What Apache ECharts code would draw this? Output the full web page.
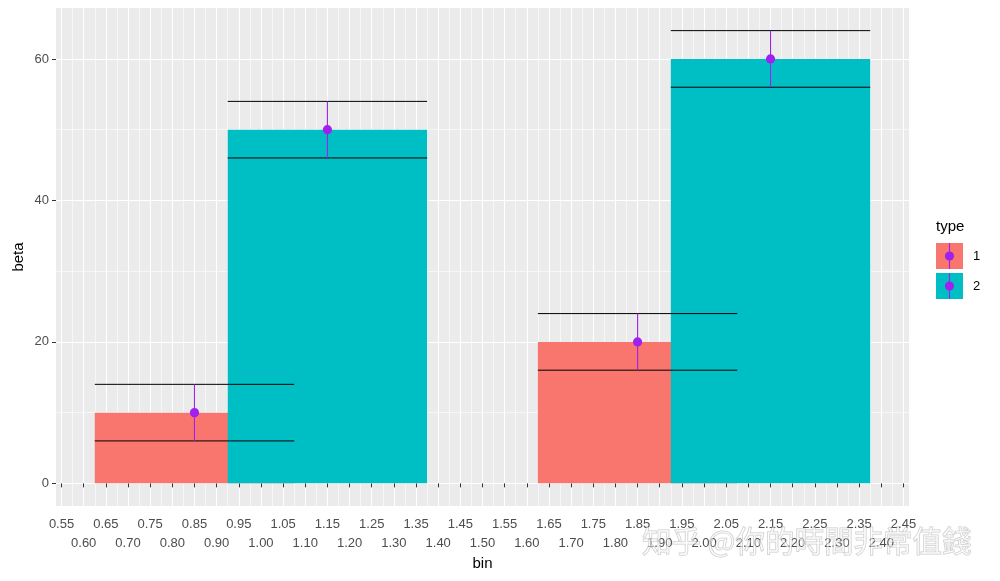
<!DOCTYPE html>
<html><head><meta charset="utf-8">
<script src="https://cdn.jsdelivr.net/npm/echarts@6/dist/echarts.min.js"></script>
<style>html,body{margin:0;padding:0;background:#fff}#c{width:1000px;height:581px}</style>
</head><body><div id="c"></div>
<script>
// ---- data ----
const bins  = [0.85, 1.15, 1.85, 2.15];
const types = ['1', '2', '1', '2'];
const beta  = [10, 50, 20, 60];
const lower = [6, 46, 16, 56];
const upper = [14, 54, 24, 64];
const typeLevels = ['1', '2'];
const xTickLabels = ['0.55','0.60','0.65','0.70','0.75','0.80','0.85','0.90','0.95','1.00',
  '1.05','1.10','1.15','1.20','1.25','1.30','1.35','1.40','1.45','1.50','1.55','1.60',
  '1.65','1.70','1.75','1.80','1.85','1.90','1.95','2.00','2.05','2.10','2.15','2.20',
  '2.25','2.30','2.35','2.40','2.45'];
const yTickLabels = ['0', '20', '40', '60'];

// ---- derived ----
const xTicks = xTickLabels.map(Number);
const xRow1 = xTicks.filter((t, i) => i % 2 === 0);
const xRow2 = xTicks.filter((t, i) => i % 2 === 1);
const xMinor = xTicks.slice(1).map((t, i) => (t + xTicks[i]) / 2);
const yTicks = yTickLabels.map(Number);
const yMinor = yTicks.slice(1).map((t, i) => (t + yTicks[i]) / 2);
const fillColors = {'1': '#F8766D', '2': '#00BFC4'};
const pointColor = '#A020F0';
const BAR_W = 0.45, ERR_W = 0.45;

const rows = bins.map((b, i) => [b, beta[i], lower[i], upper[i], typeLevels.indexOf(types[i])]);

const chart = echarts.init(document.getElementById('c'), null, {renderer: 'canvas'});
const font = 'Liberation Sans, Arial, sans-serif';
const xLabelFmt = v => {
  const i = xTicks.findIndex(t => Math.abs(t - v) < 1e-6);
  return i < 0 ? '' : xTickLabels[i];
};
const labelBase = {fontSize: 13, lineHeight: 19, color: '#4D4D4D', fontFamily: font,
  showMinLabel: true, showMaxLabel: true, hideOverlap: false, formatter: xLabelFmt};

const option = {
  animation: false,
  backgroundColor: '#FFFFFF',
  grid: {left: 56, right: 91, top: 8, bottom: 75, show: true, backgroundColor: '#EBEBEB', borderWidth: 0},
  xAxis: [{
    type: 'value', min: 0.5375, max: 2.4625, position: 'bottom',
    name: 'bin', nameLocation: 'middle', nameGap: 50, nameMoveOverlap: false,
    nameTextStyle: {fontSize: 15, color: '#000', fontFamily: font},
    axisLine: {show: false},
    axisTick: {show: true, customValues: xTicks, length: 4, lineStyle: {color: '#333333', width: 1}},
    axisLabel: Object.assign({customValues: xRow1, margin: 9}, labelBase),
    splitLine: {show: true, lineStyle: {color: '#FFFFFF', width: 1.1}}
  }, {
    type: 'value', min: 0.5375, max: 2.4625, position: 'bottom',
    axisLine: {show: false},
    axisTick: {show: false, customValues: xMinor},
    axisLabel: Object.assign({customValues: xRow2, margin: 28}, labelBase),
    splitLine: {show: true, lineStyle: {color: '#FFFFFF', width: 0.6}}
  }],
  yAxis: [{
    type: 'value', min: -3.2, max: 67.2,
    name: 'beta', nameLocation: 'middle', nameGap: 30, nameRotate: 90, nameMoveOverlap: false,
    nameTextStyle: {fontSize: 15, color: '#000', fontFamily: font},
    axisLine: {show: false},
    axisTick: {show: true, customValues: yTicks, length: 4, lineStyle: {color: '#333333', width: 1}},
    axisLabel: {customValues: yTicks, margin: 7, fontSize: 13, color: '#4D4D4D', fontFamily: font,
      showMinLabel: true, showMaxLabel: true,
      formatter: v => { const i = yTicks.indexOf(v); return i < 0 ? '' : yTickLabels[i]; }},
    splitLine: {show: true, lineStyle: {color: '#FFFFFF', width: 1.1}}
  }, {
    type: 'value', min: -3.2, max: 67.2,
    axisLine: {show: false},
    axisTick: {show: false, customValues: yMinor},
    axisLabel: {show: false, customValues: yMinor},
    splitLine: {show: true, lineStyle: {color: '#FFFFFF', width: 0.6}}
  }],
  series: [{
    type: 'custom', name: 'bars', xAxisIndex: 0, yAxisIndex: 0, z: 2,
    data: rows,
    renderItem(params, api) {
      const x = api.value(0), y = api.value(1), t = typeLevels[api.value(4)];
      const p0 = api.coord([x - BAR_W / 2, y]);
      const p1 = api.coord([x + BAR_W / 2, 0]);
      return {type: 'rect', shape: {x: p0[0], y: p0[1], width: p1[0] - p0[0], height: p1[1] - p0[1]},
        style: {fill: fillColors[t]}};
    }
  }, {
    type: 'custom', name: 'errors', xAxisIndex: 0, yAxisIndex: 0, z: 3,
    data: rows,
    renderItem(params, api) {
      const x = api.value(0), y = api.value(1), lo = api.value(2), hi = api.value(3);
      const a = api.coord([x - ERR_W / 2, hi]), b = api.coord([x + ERR_W / 2, hi]);
      const c = api.coord([x - ERR_W / 2, lo]), d = api.coord([x + ERR_W / 2, lo]);
      const m1 = api.coord([x, hi]), m2 = api.coord([x, lo]), pt = api.coord([x, y]);
      return {type: 'group', children: [
        {type: 'line', shape: {x1: a[0], y1: a[1], x2: b[0], y2: b[1]}, style: {stroke: '#000', lineWidth: 1}},
        {type: 'line', shape: {x1: c[0], y1: c[1], x2: d[0], y2: d[1]}, style: {stroke: '#000', lineWidth: 1}},
        {type: 'line', shape: {x1: m1[0], y1: m1[1], x2: m2[0], y2: m2[1]}, style: {stroke: pointColor, lineWidth: 1.1}},
        {type: 'circle', shape: {cx: pt[0], cy: pt[1], r: 4.6}, style: {fill: pointColor}}
      ]};
    }
  }],
  graphic: [
    {type: 'text', left: 936, top: 219, style: {text: 'type', fontSize: 15, fill: '#000', fontFamily: font}},
    ...typeLevels.flatMap((lv, i) => {
      const y0 = 243 + i * 30;
      return [
        {type: 'rect', shape: {x: 936, y: y0, width: 27, height: 26}, style: {fill: fillColors[lv]}},
        {type: 'line', shape: {x1: 949.5, y1: y0, x2: 949.5, y2: y0 + 26}, style: {stroke: pointColor, lineWidth: 1.1}},
        {type: 'circle', shape: {cx: 949.5, cy: y0 + 13, r: 4.6}, style: {fill: pointColor}},
        {type: 'text', x: 973, y: y0 + 13, style: {text: lv, fontSize: 13, fill: '#000', fontFamily: font, verticalAlign: 'middle'}}
      ];
    }),
    {type: 'text', x: 642, y: 541, z: 100, style: {text: '知乎 @你的時間非常值錢', fontSize: 29.5,
      fontFamily: 'Noto Sans CJK TC', fill: 'rgba(255,255,255,0.5)', stroke: 'rgba(120,120,120,0.4)', lineWidth: 1, verticalAlign: 'middle'}}
  ]
};
chart.setOption(option);
</script>
</body></html>
